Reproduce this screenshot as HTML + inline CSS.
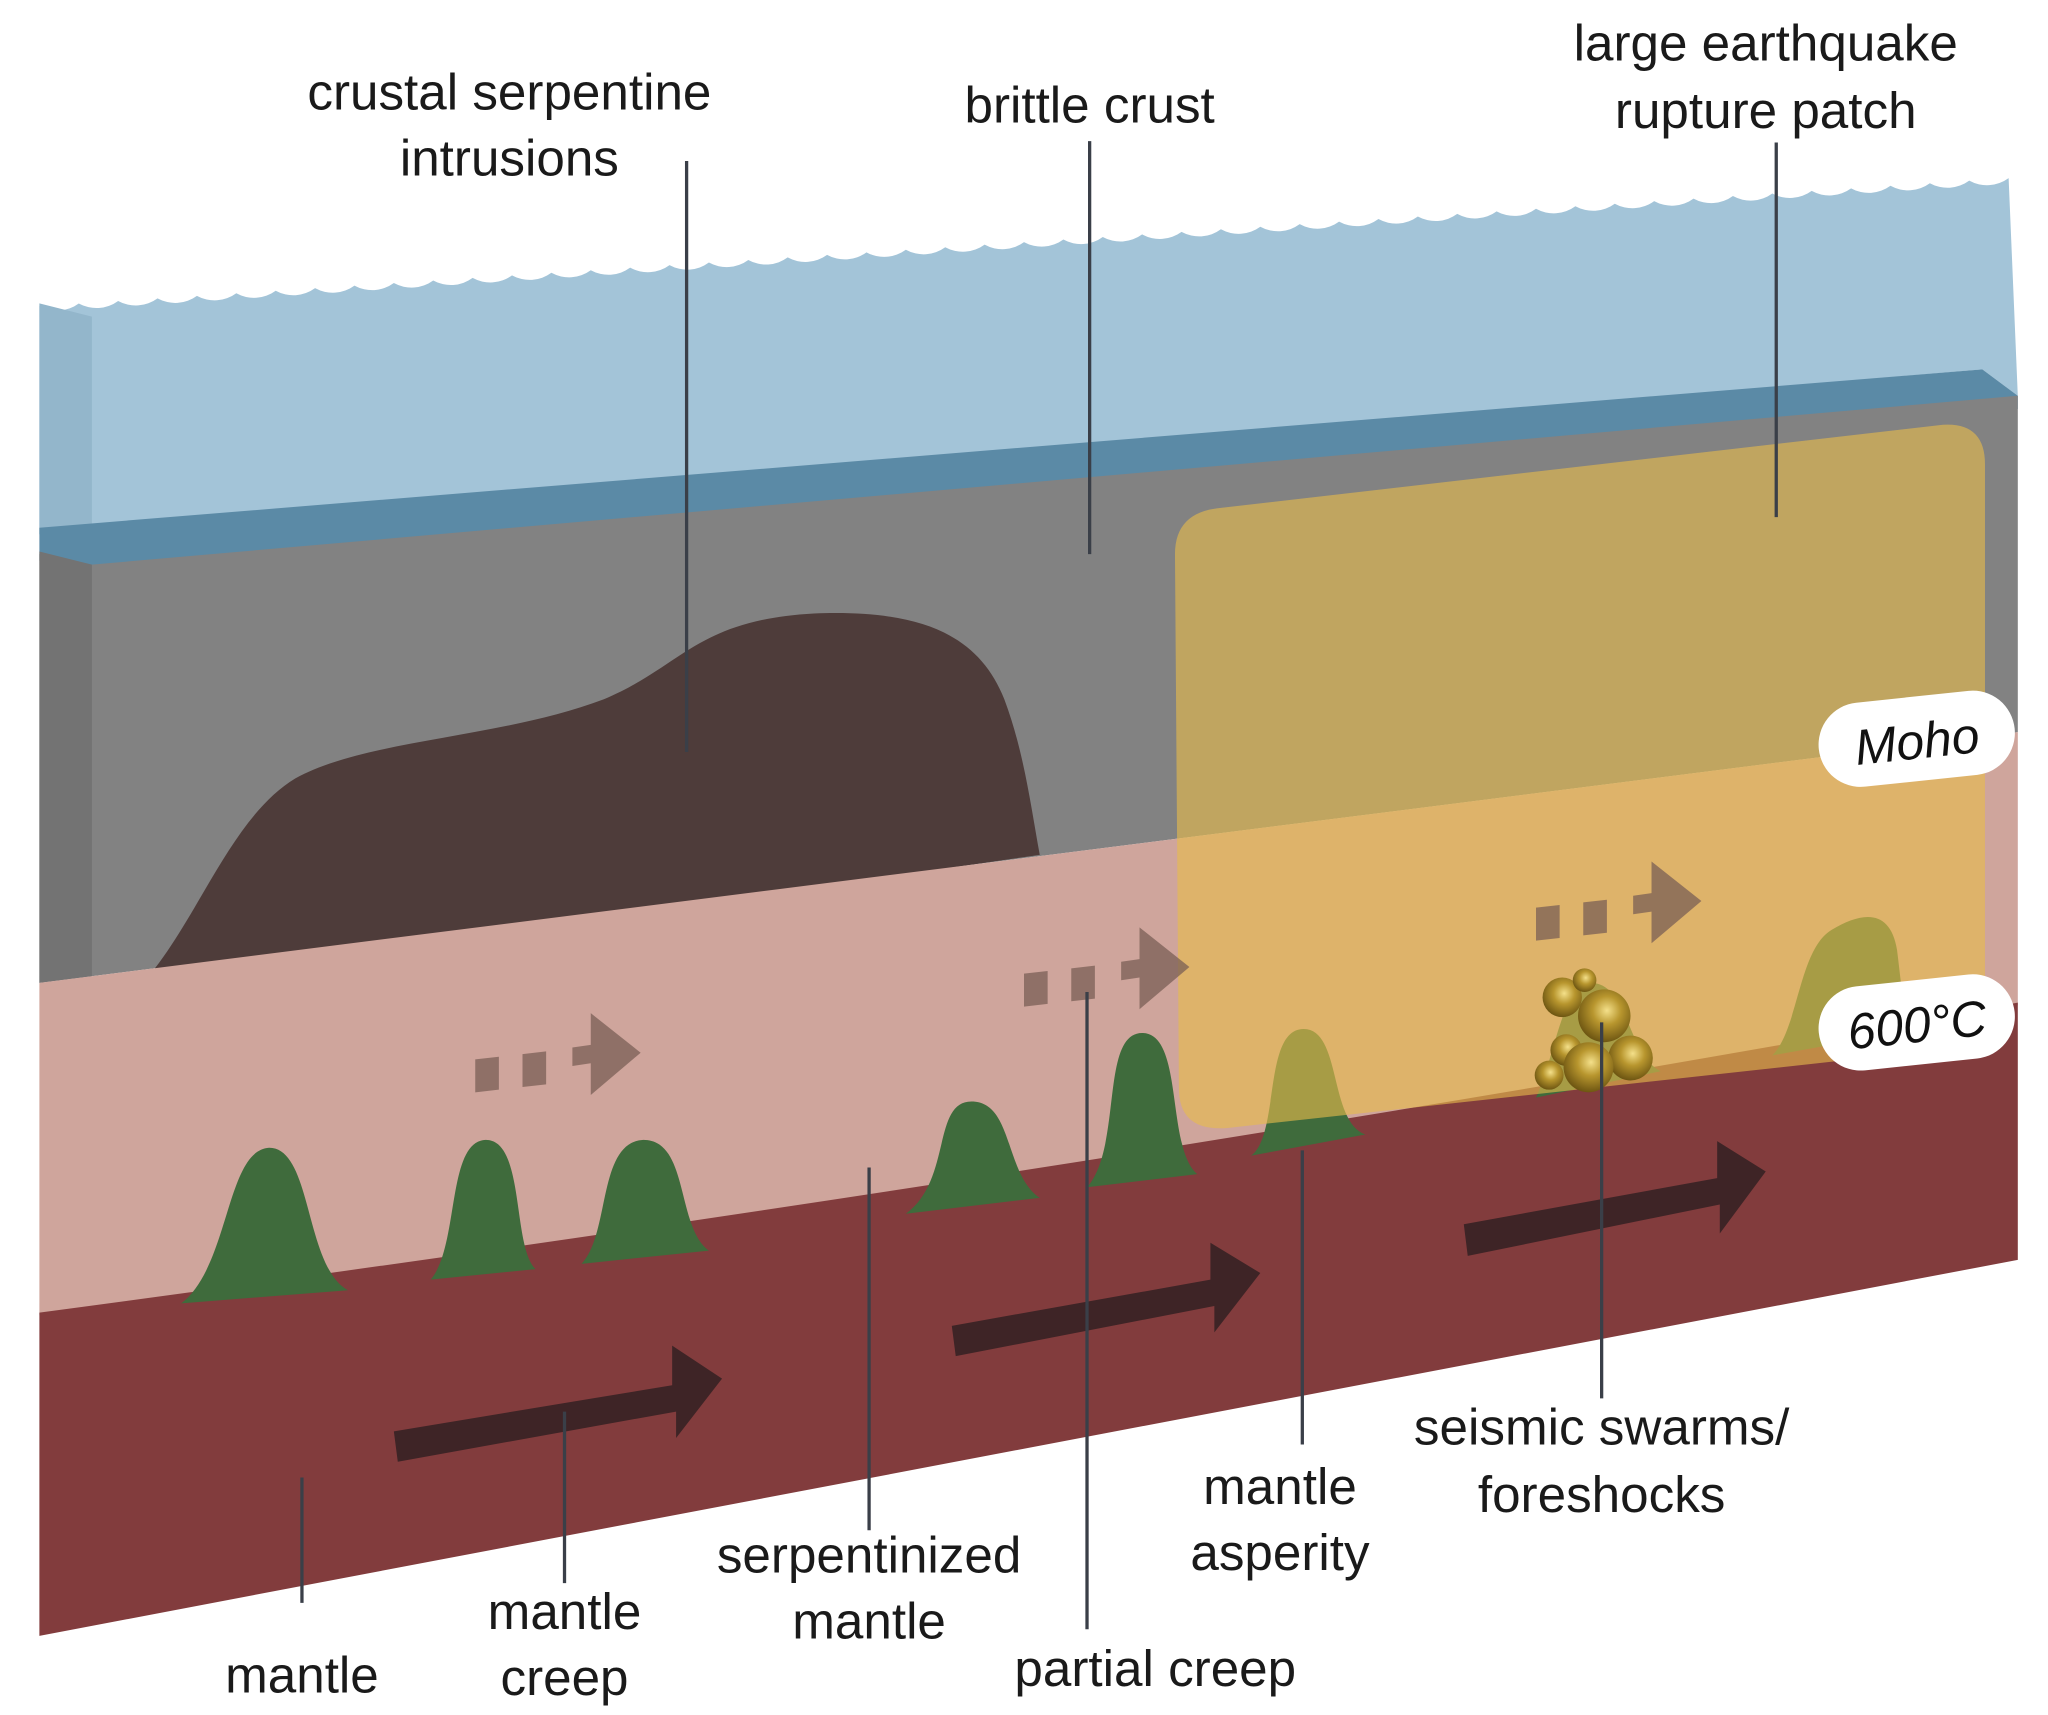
<!DOCTYPE html>
<html><head><meta charset="utf-8"><style>html,body{margin:0;padding:0;background:#fff}svg{display:block}</style></head><body>
<svg width="2048" height="1715" viewBox="0 0 1560 1300" preserveAspectRatio="none" xmlns="http://www.w3.org/2000/svg">
<defs>
<radialGradient id="ball" cx="0.55" cy="0.4" r="0.6"><stop offset="0" stop-color="#f4e08a"/><stop offset="0.45" stop-color="#b8962e"/><stop offset="1" stop-color="#6e5612"/></radialGradient>
</defs>
<path id="water" d="M30,230 L1537,135 L1537,300 L1510,280 L30,405 Z" fill="#a3c4d8"/>
<path d="M30,230 L70,240 L70,410 L30,405 Z" fill="#93b6cb"/>
<path d="M30,400 L1510,280 L1537,300 L1537,310 L70,432 L30,425 Z" fill="#5b8aa6"/>
<path d="M30,420 L70,428 L1537,300 L1537,555 L30,745 Z" fill="#828282"/>
<path d="M30,418 L70,428 L70,740 L30,745Z" fill="#737373"/>
<path d="M108,746 C150,700 175,620 225,590 C280,560 380,560 460,530 C520,505 530,470 620,465 C700,462 745,480 765,530 C780,570 785,610 792,648 Z" fill="#4e3c3a"/>
<path d="M30,745 L1537,555 L1537,762 Q800,895 30,997 Z" fill="#cfa59c"/>
<path d="M30,995 Q800,893 1537,760 L1537,955 L30,1240 Z" fill="#823c3d"/>
<g fill="#3f6b3c">
<path d="M138,988 C175,960 172,872 205,870 C238,870 232,960 265,978Z"/>
<path d="M328,970 C350,945 340,865 370,864 C400,864 390,945 408,962Z"/>
<path d="M443,958 C465,935 455,866 490,864 C525,864 515,930 540,948Z"/>
<path d="M690,920 C725,895 710,835 740,835 C772,835 765,890 792,908Z"/>
<path d="M828,900 C855,870 838,783 870,783 C902,783 888,870 912,890Z"/>
<path d="M953,876 C975,860 962,780 993,780 C1022,780 1012,850 1040,860Z"/>
<path d="M1170,832 C1185,800 1190,745 1212,745 C1240,745 1240,800 1265,812Z"/>
<path d="M1350,800 C1370,780 1370,720 1395,705 C1420,690 1440,690 1445,720 C1450,760 1450,775 1462,780Z"/>
</g>
<path d="M930,385 L1480,322 Q1512,320 1512,352 L1512,765 Q1512,790 1485,795 L935,855 Q898,858 898,825 L895,420 Q895,388 930,385Z" fill="#e6bb4c" fill-opacity="0.62"/>
<g fill="url(#ball)">
<circle cx="1180" cy="815" r="11"/><circle cx="1193" cy="796" r="12"/>
<circle cx="1190" cy="756" r="15"/><circle cx="1207" cy="743" r="9"/>
<circle cx="1222" cy="770" r="20"/><circle cx="1242" cy="802" r="17"/>
<circle cx="1210" cy="809" r="19"/>
</g>
<g fill="#7a5f55" fill-opacity="0.75">
<path d="M362,803 l18,-2 v25 l-18,2Z M398,799 l18,-2 v25 l-18,2Z M436,794 l14,-2 v-24 l38,30 l-38,32 v-24 l-14,2Z"/>
<path d="M780,738 l18,-2 v25 l-18,2Z M816,734 l18,-2 v25 l-18,2Z M854,729 l14,-2 v-24 l38,30 l-38,32 v-24 l-14,2Z"/>
<path d="M1170,688 l18,-2 v25 l-18,2Z M1206,684 l18,-2 v25 l-18,2Z M1244,679 l14,-2 v-24 l38,30 l-38,32 v-24 l-14,2Z"/>
</g>
<g fill="#3e2426">
<path d="M300,1085 L512,1050 L512,1020 L550,1045 L515,1090 L515,1070 L303,1108Z"/>
<path d="M725,1005 L922,970 L922,942 L960,965 L925,1010 L925,990 L728,1028Z"/>
<path d="M1115,928 L1308,893 L1308,865 L1345,888 L1310,935 L1310,913 L1118,952Z"/>
</g>
<g transform="rotate(-6 1460 560)"><rect x="1385" y="528" width="150" height="64" rx="32" fill="#fff"/><text x="1460" y="575" font-family="Liberation Sans, sans-serif" font-style="italic" font-size="38" text-anchor="middle" fill="#111">Moho</text></g>
<g transform="rotate(-6 1460 775)"><rect x="1385" y="743" width="150" height="64" rx="32" fill="#fff"/><text x="1460" y="790" font-family="Liberation Sans, sans-serif" font-style="italic" font-size="38" text-anchor="middle" fill="#111">600°C</text></g>
<g stroke="#3a3f48" stroke-width="2.5">
<line x1="523" y1="122" x2="523" y2="570"/>
<line x1="830" y1="107" x2="830" y2="420"/>
<line x1="1353" y1="108" x2="1353" y2="392"/>
<line x1="230" y1="1120" x2="230" y2="1215"/>
<line x1="430" y1="1070" x2="430" y2="1200"/>
<line x1="662" y1="885" x2="662" y2="1160"/>
<line x1="828" y1="752" x2="828" y2="1235"/>
<line x1="992" y1="872" x2="992" y2="1095"/>
<line x1="1220" y1="775" x2="1220" y2="1060"/>
</g>
<g font-family="Liberation Sans, sans-serif" font-size="39" text-anchor="middle" fill="#1a1a1a">
<text x="388" y="83">crustal serpentine</text><text x="388" y="133">intrusions</text>
<text x="830" y="93">brittle crust</text>
<text x="1345" y="46">large earthquake</text><text x="1345" y="97">rupture patch</text>
<text x="230" y="1283">mantle</text>
<text x="430" y="1235">mantle</text><text x="430" y="1285">creep</text>
<text x="662" y="1192">serpentinized</text><text x="662" y="1242">mantle</text>
<text x="880" y="1278">partial creep</text>
<text x="975" y="1140">mantle</text><text x="975" y="1190">asperity</text>
<text x="1220" y="1095">seismic swarms/</text><text x="1220" y="1146">foreshocks</text>
</g>
</svg>
<script>
(function(){var d="M30,232";var n=Math.round((1537-30)/30);var dy=(135-232)/n;
for(var i=0;i<n;i++){d+=" a28,28 0 0,0 30,"+dy.toFixed(2);}
d+=" L1537,300 L1510,280 L30,405 Z";document.getElementById('water').setAttribute('d',d);})();
</script>
</body></html>
